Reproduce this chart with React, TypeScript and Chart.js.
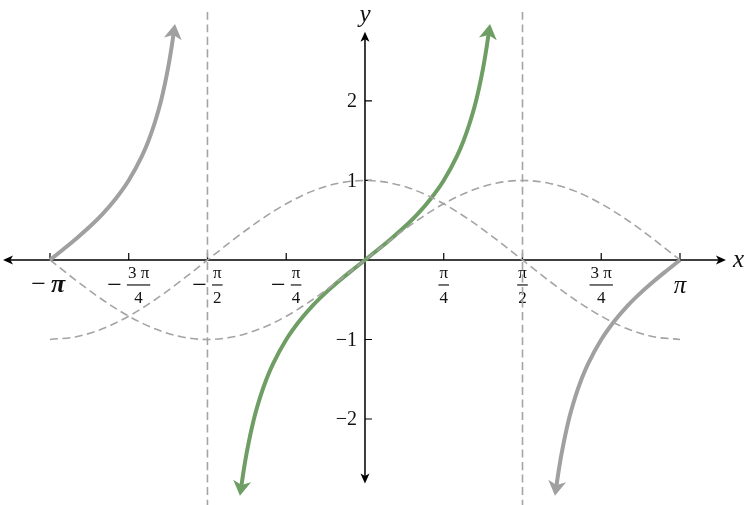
import React, { useEffect, useRef } from "react";
import { Chart, registerables } from "chart.js";

Chart.register(...registerables);

// ---- data ----
const GREEN_X = [-1.237, -1.21, -1.178, -1.113, -1.047, -0.982, -0.916, -0.785, -0.654, -0.524, -0.393, -0.262, -0.131, 0, 0.131, 0.262, 0.393, 0.524, 0.654, 0.785, 0.916, 0.982, 1.047, 1.113, 1.178, 1.21, 1.237];
const GREEN_Y = [-2.88, -2.65, -2.414, -2.028, -1.732, -1.497, -1.303, -1.0, -0.767, -0.577, -0.414, -0.268, -0.132, 0, 0.132, 0.268, 0.414, 0.577, 0.767, 1.0, 1.303, 1.497, 1.732, 2.028, 2.414, 2.65, 2.88];

const LEFT_X = [-3.142, -3.011, -2.88, -2.749, -2.618, -2.488, -2.357, -2.226, -2.16, -2.095, -2.029, -1.964, -1.932, -1.905];
const LEFT_Y = [0, 0.132, 0.268, 0.414, 0.577, 0.767, 1.0, 1.303, 1.497, 1.732, 2.028, 2.414, 2.65, 2.88];

const RIGHT_X = [1.905, 1.932, 1.964, 2.029, 2.095, 2.16, 2.226, 2.357, 2.488, 2.618, 2.749, 2.88, 3.011, 3.142];
const RIGHT_Y = [-2.88, -2.65, -2.414, -2.028, -1.732, -1.497, -1.303, -1.0, -0.767, -0.577, -0.414, -0.268, -0.132, 0];

const WAVE_X = [-3.142, -2.88, -2.618, -2.356, -2.094, -1.833, -1.571, -1.309, -1.047, -0.785, -0.524, -0.262, 0, 0.262, 0.524, 0.785, 1.047, 1.309, 1.571, 1.833, 2.094, 2.356, 2.618, 2.88, 3.142];
const SIN_Y = [0, -0.259, -0.5, -0.707, -0.866, -0.966, -1, -0.966, -0.866, -0.707, -0.5, -0.259, 0, 0.259, 0.5, 0.707, 0.866, 0.966, 1, 0.966, 0.866, 0.707, 0.5, 0.259, 0];
const COS_Y = [-1, -0.966, -0.866, -0.707, -0.5, -0.259, 0, 0.259, 0.5, 0.707, 0.866, 0.966, 1, 0.966, 0.866, 0.707, 0.5, 0.259, 0, -0.259, -0.5, -0.707, -0.866, -0.966, -1];

const ASYM_LEFT_X = [-1.571, -1.571];
const ASYM_RIGHT_X = [1.571, 1.571];
const ASYM_Y = [3.12, -3.1];

const X_TICKS = [-3.1416, -2.3562, -1.5708, -0.7854, 0.7854, 1.5708, 2.3562, 3.1416];
const X_TICK_SIGN = ["−", "−", "−", "−", "", "", "", ""];
const X_TICK_NUM = ["π", "3 π", "π", "π", "π", "π", "3 π", "π"];
const X_TICK_DEN = ["", "4", "2", "4", "4", "2", "4", ""];

const Y_TICKS = [-2, -1, 1, 2];
const Y_TICK_LABELS = ["−2", "−1", "1", "2"];

// ---- layout constants ----
const X_MIN = -3.64;
const X_MAX = 3.78;
const Y_MIN = -3.082;
const Y_MAX = 3.27;
const X_AXIS_FROM = -3.61;
const X_AXIS_TO = 3.6;
const Y_AXIS_FROM = -2.81;
const Y_AXIS_TO = 2.87;

const GREEN = "#6f9e64";
const GRAY = "#a0a0a0";
const DASH = "#a4a4a4";
const SERIF = "'Liberation Serif', 'DejaVu Serif', serif";

const pts = (xs: number[], ys: number[]) => xs.map((x, i) => ({ x, y: ys[i] }));

function arrowHead(ctx: CanvasRenderingContext2D, tx: number, ty: number, ang: number, L: number, W: number, color: string) {
  ctx.save();
  ctx.translate(tx, ty);
  ctx.rotate(ang);
  ctx.beginPath();
  ctx.moveTo(0, 0);
  ctx.lineTo(-L, W / 2);
  ctx.lineTo(-0.74 * L, 0);
  ctx.lineTo(-L, -W / 2);
  ctx.closePath();
  ctx.fillStyle = color;
  ctx.fill();
  ctx.restore();
}

const axesPlugin = {
  id: "mathAxes",
  beforeDatasetsDraw(chart: any) {
    const { ctx, scales } = chart;
    const sx = scales.x;
    const sy = scales.y;
    const x0 = sx.getPixelForValue(0);
    const y0 = sy.getPixelForValue(0);
    ctx.save();
    ctx.strokeStyle = "#000";
    ctx.lineWidth = 1.5;
    const xl = sx.getPixelForValue(X_AXIS_FROM);
    const xr = sx.getPixelForValue(X_AXIS_TO);
    const yt = sy.getPixelForValue(Y_AXIS_TO);
    const yb = sy.getPixelForValue(Y_AXIS_FROM);
    ctx.beginPath();
    ctx.moveTo(xl + 5, y0);
    ctx.lineTo(xr - 5, y0);
    ctx.moveTo(x0, yt + 5);
    ctx.lineTo(x0, yb - 5);
    ctx.stroke();
    arrowHead(ctx, xr, y0, 0, 10, 9, "#000");
    arrowHead(ctx, xl, y0, Math.PI, 10, 9, "#000");
    arrowHead(ctx, x0, yt, -Math.PI / 2, 10, 9, "#000");
    arrowHead(ctx, x0, yb, Math.PI / 2, 10, 9, "#000");

    // ticks
    ctx.lineWidth = 1.2;
    ctx.beginPath();
    X_TICKS.forEach((v) => {
      const px = sx.getPixelForValue(v);
      ctx.moveTo(px, y0);
      ctx.lineTo(px, y0 - 7);
    });
    Y_TICKS.forEach((v) => {
      const py = sy.getPixelForValue(v);
      ctx.moveTo(x0, py);
      ctx.lineTo(x0 + 7, py);
    });
    ctx.stroke();

    ctx.fillStyle = "#111";
    // y tick labels
    ctx.font = `20px ${SERIF}`;
    ctx.textAlign = "right";
    ctx.textBaseline = "middle";
    Y_TICKS.forEach((v, i) => {
      ctx.fillText(Y_TICK_LABELS[i], x0 - 8, sy.getPixelForValue(v) + 1);
    });

    // x tick labels
    X_TICKS.forEach((v, i) => {
      const px = sx.getPixelForValue(v);
      const sign = X_TICK_SIGN[i];
      const num = X_TICK_NUM[i];
      const den = X_TICK_DEN[i];
      if (!den) {
        ctx.textBaseline = "alphabetic";
        if (sign) {
          ctx.font = `26px ${SERIF}`;
          ctx.textAlign = "right";
          ctx.fillText(sign, px - 4, y0 + 32);
          ctx.font = `italic bold 26px ${SERIF}`;
          ctx.textAlign = "left";
          ctx.fillText(num, px + 1, y0 + 32);
        } else {
          ctx.font = `italic 25px ${SERIF}`;
          ctx.textAlign = "center";
          ctx.fillText(num, px, y0 + 33);
        }
        return;
      }
      ctx.font = `17px ${SERIF}`;
      const fracW = Math.max(ctx.measureText(num).width, ctx.measureText(den).width) + 2;
      ctx.font = `26px ${SERIF}`;
      const signW = sign ? ctx.measureText(sign).width + 5 : 0;
      const total = signW + fracW;
      const left = px - total / 2;
      const fc = left + signW + fracW / 2;
      if (sign) {
        ctx.textAlign = "left";
        ctx.textBaseline = "middle";
        ctx.fillText(sign, left, y0 + 26);
      }
      ctx.font = `17px ${SERIF}`;
      ctx.textAlign = "center";
      ctx.textBaseline = "alphabetic";
      ctx.fillText(num, fc, y0 + 18);
      ctx.fillText(den, fc, y0 + 43);
      ctx.lineWidth = 1.1;
      ctx.beginPath();
      ctx.moveTo(fc - fracW / 2, y0 + 25);
      ctx.lineTo(fc + fracW / 2, y0 + 25);
      ctx.stroke();
    });

    // axis names
    ctx.font = `italic 25px ${SERIF}`;
    ctx.textAlign = "left";
    ctx.textBaseline = "middle";
    ctx.fillText("x", xr + 7, y0);
    ctx.textAlign = "center";
    ctx.textBaseline = "alphabetic";
    ctx.fillText("y", x0, yt - 10);
    ctx.restore();
  },
  afterDatasetsDraw(chart: any) {
    const { ctx } = chart;
    chart.data.datasets.forEach((ds: any, i: number) => {
      const meta = chart.getDatasetMeta(i);
      const d = meta.data;
      const n = d.length;
      if (ds.arrowEnd) {
        const a = d[n - 2], b = d[n - 1];
        const ang = Math.atan2(b.y - a.y, b.x - a.x);
        arrowHead(ctx, b.x + 7 * Math.cos(ang), b.y + 7 * Math.sin(ang), ang, 15, 18, ds.borderColor);
      }
      if (ds.arrowStart) {
        const a = d[1], b = d[0];
        const ang = Math.atan2(b.y - a.y, b.x - a.x);
        arrowHead(ctx, b.x + 7 * Math.cos(ang), b.y + 7 * Math.sin(ang), ang, 15, 18, ds.borderColor);
      }
    });
  },
};

export default function App() {
  const ref = useRef<HTMLCanvasElement>(null);
  useEffect(() => {
    if (!ref.current) return;
    const dashed = (data: any) => ({
      data,
      borderColor: DASH,
      borderWidth: 1.6,
      borderDash: [8, 4.5],
      pointRadius: 0,
      cubicInterpolationMode: "monotone",
      fill: false,
    });
    const chart = new Chart(ref.current, {
      type: "line",
      data: {
        datasets: [
          dashed(pts(WAVE_X, SIN_Y)),
          dashed(pts(WAVE_X, COS_Y)),
          dashed(pts(ASYM_LEFT_X, ASYM_Y)),
          dashed(pts(ASYM_RIGHT_X, ASYM_Y)),
          {
            data: pts(LEFT_X, LEFT_Y),
            borderColor: GRAY,
            borderWidth: 4,
            pointRadius: 0,
            cubicInterpolationMode: "monotone",
            arrowEnd: true,
          } as any,
          {
            data: pts(RIGHT_X, RIGHT_Y),
            borderColor: GRAY,
            borderWidth: 4,
            pointRadius: 0,
            cubicInterpolationMode: "monotone",
            arrowStart: true,
          } as any,
          {
            data: pts(GREEN_X, GREEN_Y),
            borderColor: GREEN,
            borderWidth: 4,
            pointRadius: 0,
            cubicInterpolationMode: "monotone",
            arrowStart: true,
            arrowEnd: true,
          } as any,
        ],
      },
      options: {
        animation: false,
        responsive: true,
        maintainAspectRatio: false,
        layout: { padding: 0 },
        plugins: { legend: { display: false }, tooltip: { enabled: false } },
        scales: {
          x: { type: "linear", min: X_MIN, max: X_MAX, display: false },
          y: { type: "linear", min: Y_MIN, max: Y_MAX, display: false },
        },
      } as any,
      plugins: [axesPlugin],
    });
    return () => chart.destroy();
  }, []);
  return (
    <div style={{ position: "fixed", left: 0, top: 0, width: 744, height: 505, background: "#fff" }}>
      <canvas ref={ref} />
    </div>
  );
}
